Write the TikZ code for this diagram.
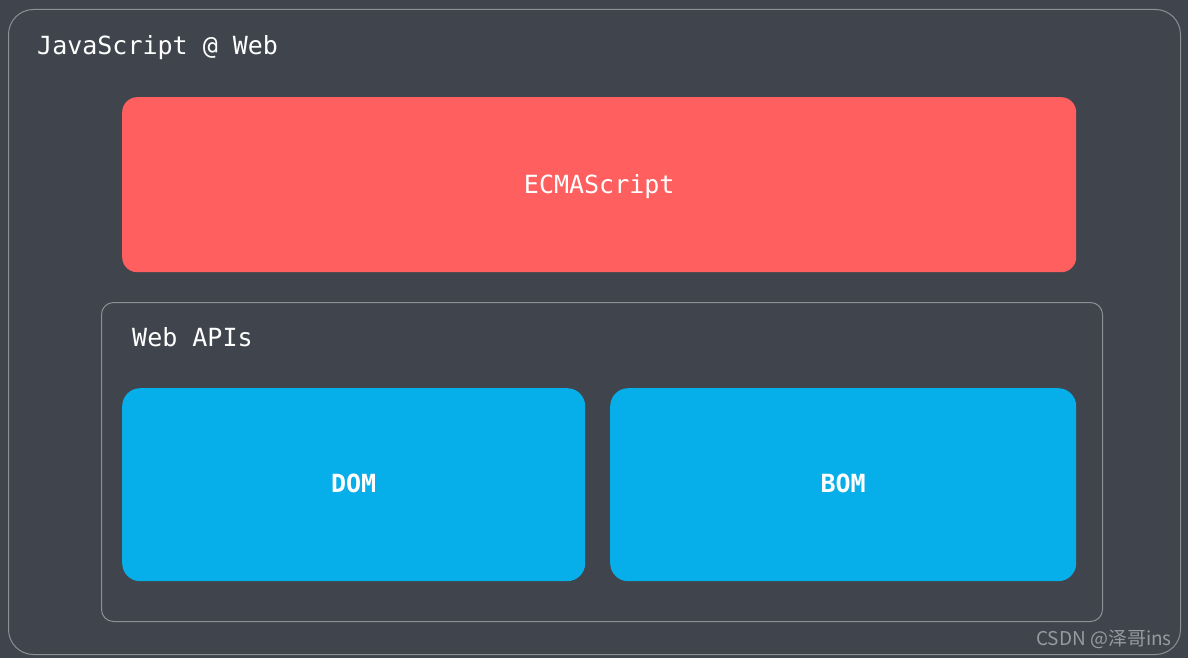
\documentclass[tikz,border=0pt]{standalone}
\usepackage{fontspec}
\setmainfont{DejaVu Sans Mono}[Scale=1.0]
\newfontfamily\markfont{Noto Sans CJK SC}
\definecolor{bgdark}{HTML}{40444C}
\definecolor{framegray}{HTML}{8C8F94}
\definecolor{ecmared}{HTML}{FF5F5F}
\definecolor{apiblue}{HTML}{07AFEA}
\tikzset{
  frame/.style={draw=framegray, line width=1pt, anchor=north west, inner sep=0pt},
  block/.style={anchor=north west, inner sep=0pt, text=white, text depth=2pt, font=\fontsize{25}{28}\selectfont},
  caption/.style={anchor=base west, inner sep=0pt, text=white, font=\fontsize{25}{28}\selectfont},
}
\begin{document}
\begin{tikzpicture}[x=1pt, y=-1pt]
    \fill[bgdark] (0,0) rectangle (1188,658);
    \node[frame, rounded corners=25pt, minimum width=1172pt, minimum height=645pt] (outer) at (8,9) {};
    \node[caption] (jsweb) at (37,55) {JavaScript @ Web};
    \node[block, fill=ecmared, rounded corners=15pt, minimum width=954pt, minimum height=175pt] (ecma) at (122,97) {ECMAScript};
    \node[frame, rounded corners=12pt, minimum width=1001pt, minimum height=319pt] (webapi) at (101,302) {};
    \node[caption] (apis) at (132,346) {Web APIs};
    \node[block, fill=apiblue, rounded corners=18pt, minimum width=463pt, minimum height=193pt, font=\fontsize{25}{28}\selectfont\bfseries] (dom) at (122,388) {DOM};
    \node[block, fill=apiblue, rounded corners=18pt, minimum width=466pt, minimum height=193pt, font=\fontsize{25}{28}\selectfont\bfseries] (bom) at (610,388) {BOM};
    \node[anchor=base east, inner sep=0pt, text=framegray!90!white, font=\markfont\fontsize{19}{22}\selectfont] (mark) at (1172,645) {CSDN @泽哥ins};
\end{tikzpicture}
\end{document}
